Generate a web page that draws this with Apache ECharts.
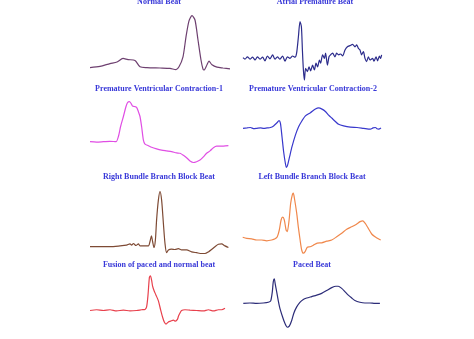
<!DOCTYPE html>
<html>
<head>
<meta charset="utf-8">
<script src="https://cdn.jsdelivr.net/npm/echarts@6/dist/echarts.min.js"></script>
<style>
  html, body { margin: 0; padding: 0; background: #ffffff; }
  #chart { width: 474px; height: 339px; }
</style>
</head>
<body>
<div id="chart"></div>
<script>
// Beat morphologies: [time (ms), amplitude (mV)]
const normalBeat = [[0,0.01],[50,0.04],[100,0.11],[135,0.15],[165,0.24],[190,0.21],[225,0.19],[250,0.03],[285,0.01],[350,0],[400,-0.01],[430,-0.04],[445,0.03],[465,0.28],[480,0.78],[495,1.18],[510,1.31],[525,1.2],[540,0.7],[555,0.2],[565,-0.03],[570,-0.05],[585,0.08],[595,0.17],[610,0.08],[635,0.02],[665,0],[700,-0.02]];

const atrialPremature = [[0,0.01],[10,-0.03],[22,0.03],[35,-0.03],[48,0.02],[60,-0.05],[72,0.03],[85,-0.03],[98,0.02],[110,-0.07],[122,0.05],[135,-0.02],[148,0.08],[160,-0.03],[172,0.03],[185,-0.03],[198,0.05],[210,-0.08],[222,0.03],[235,-0.01],[248,0.05],[260,0.02],[268,0.12],[277,0.53],[285,0.91],[292,0.78],[297,0.2],[302,-0.3],[307,-0.55],[313,-0.26],[322,-0.34],[330,-0.22],[338,-0.32],[348,-0.18],[357,-0.3],[365,-0.13],[373,-0.22],[382,-0.05],[388,-0.13],[398,0.08],[407,-0.01],[413,0.12],[422,-0.18],[430,0.03],[438,0.08],[448,0.12],[460,0.03],[468,0.12],[478,0.08],[488,0.1],[498,0.05],[510,0.2],[522,0.28],[535,0.31],[548,0.34],[560,0.28],[568,0.33],[577,0.24],[585,0.2],[593,0.08],[602,0.16],[610,-0.01],[618,-0.09],[627,0.03],[635,-0.05],[648,-0.01],[655,-0.08],[665,0.03],[673,-0.07],[682,0.05],[688,-0.01],[693,0.08]];

const pvc1 = [[0,0],[33,-0.01],[67,0],[100,0.01],[130,0],[142,0.13],[153,0.38],[167,0.63],[180,0.88],[188,0.98],[197,1.0],[205,0.96],[213,0.89],[222,0.88],[233,0.86],[242,0.75],[250,0.63],[258,0.38],[267,0.04],[275,-0.06],[292,-0.1],[308,-0.14],[333,-0.18],[358,-0.21],[383,-0.23],[408,-0.25],[433,-0.28],[450,-0.29],[467,-0.34],[483,-0.4],[500,-0.48],[517,-0.52],[533,-0.5],[550,-0.46],[567,-0.38],[583,-0.29],[600,-0.23],[617,-0.15],[633,-0.11],[650,-0.11],[667,-0.11],[692,-0.1]];

const pvc2 = [[0,0],[20,0.01],[37,0.02],[55,-0.01],[70,0],[88,0.01],[103,0],[120,0.01],[137,0.02],[153,0.06],[170,0.14],[180,0.19],[187,0.13],[195,-0.21],[203,-0.58],[212,-0.88],[217,-0.98],[223,-0.92],[233,-0.71],[245,-0.46],[262,-0.17],[278,0.04],[295,0.19],[312,0.31],[337,0.39],[362,0.48],[378,0.51],[395,0.48],[412,0.42],[428,0.33],[445,0.25],[462,0.17],[478,0.1],[503,0.06],[537,0.03],[570,0.02],[603,0],[637,-0.02],[650,0.01],[662,0.02],[670,-0.01],[678,-0.02],[690,0.01]];

const rbbb = [[0,0],[50,0],[100,0],[150,0.02],[183,0.04],[200,0.07],[208,0.04],[217,0.08],[230,0.03],[242,0.07],[250,0.02],[275,0.02],[292,0.02],[300,0.13],[307,0.27],[313,0.13],[320,-0.02],[327,0.17],[333,0.67],[342,1.17],[350,1.38],[358,1.17],[367,0.58],[375,0.08],[383,-0.15],[392,-0.08],[408,-0.06],[425,-0.07],[442,-0.05],[458,-0.08],[483,-0.08],[508,-0.13],[533,-0.15],[558,-0.17],[575,-0.17],[592,-0.13],[608,-0.07],[625,0],[642,0.06],[658,0.07],[675,0.02],[692,-0.02]];

const lbbb = [[0,0.07],[20,0.04],[45,0.03],[70,0],[95,0],[120,-0.02],[145,0],[162,0.03],[173,0.08],[183,0.25],[192,0.5],[200,0.57],[208,0.5],[217,0.25],[223,0.21],[232,0.5],[240,0.92],[248,1.13],[253,1.17],[260,1.0],[270,0.67],[278,0.33],[287,0],[295,-0.25],[303,-0.33],[312,-0.29],[323,-0.18],[337,-0.17],[353,-0.13],[373,-0.08],[395,-0.07],[420,-0.03],[445,0],[470,0.08],[495,0.17],[520,0.27],[545,0.33],[567,0.39],[587,0.46],[600,0.48],[612,0.42],[628,0.29],[645,0.15],[662,0.08],[678,0.03],[690,0]];

const fusion = [[0,0],[33,0.02],[67,0],[100,0.02],[133,-0.01],[167,0.01],[200,-0.01],[233,0],[258,0.02],[275,0.03],[283,0.1],[290,0.43],[297,0.93],[302,0.97],[308,0.85],[313,0.68],[320,0.56],[330,0.43],[342,0.27],[353,0.02],[363,-0.19],[372,-0.33],[380,-0.38],[392,-0.32],[403,-0.3],[417,-0.27],[427,-0.3],[437,-0.25],[443,-0.15],[450,-0.07],[458,0],[475,0.02],[500,0.01],[533,0],[567,-0.01],[592,0.02],[617,-0.01],[642,0.02],[658,0.02],[675,0.06]];

const paced = [[0,0],[33,0.01],[67,0],[100,0.01],[125,0.03],[137,0.07],[145,0.32],[150,0.61],[155,0.69],[160,0.53],[167,0.32],[175,0.07],[183,-0.14],[197,-0.39],[208,-0.56],[220,-0.67],[230,-0.64],[242,-0.48],[253,-0.27],[267,-0.1],[283,0.03],[300,0.11],[317,0.15],[342,0.19],[367,0.23],[392,0.28],[417,0.36],[442,0.44],[463,0.48],[475,0.48],[492,0.42],[508,0.33],[525,0.23],[542,0.15],[558,0.08],[583,0.03],[608,0.01],[633,0.01],[658,0],[683,0]];

const beatTitles = [
  'Normal Beat', 'Atrial Premature Beat',
  'Premature Ventricular Contraction-1', 'Premature Ventricular Contraction-2',
  'Right Bundle Branch Block Beat', 'Left Bundle Branch Block Beat',
  'Fusion of paced and normal beat', 'Paced Beat'
];
const beatData = [normalBeat, atrialPremature, pvc1, pvc2, rbbb, lbbb, fusion, paced];

// Panel layout: left edge, baseline pixel, y range, title centre
const panels = [
  { left: 90,    base: 68,    max: 1.5, min: -0.5, tx: 159, ty: 3,   color: '#6e4070' },
  { left: 243,   base: 58,    max: 1.2, min: -0.8, tx: 315, ty: 3,   color: '#2c2c8c' },
  { left: 90,    base: 141.7, max: 1.2, min: -0.8, tx: 159, ty: 90,  color: '#e04ee4' },
  { left: 243,   base: 128.3, max: 0.8, min: -1.2, tx: 313, ty: 90,  color: '#3838cc' },
  { left: 90,    base: 246.7, max: 1.5, min: -0.5, tx: 159, ty: 178, color: '#7e4a34' },
  { left: 242.7, base: 240,   max: 1.5, min: -0.5, tx: 312, ty: 178, color: '#f0884c' },
  { left: 90,    base: 315.7, max: 1.2, min: -0.8, tx: 159, ty: 266, color: '#e8404c' },
  { left: 243.3, base: 307.7, max: 1.0, min: -1.0, tx: 312, ty: 266, color: '#2c2c78' }
];
const PX_PER_MV = 40;
const WIDTH = 140;

const option = {
  backgroundColor: '#ffffff',
  animation: false,
  title: panels.map((p, i) => ({
    text: beatTitles[i],
    left: p.tx,
    top: p.ty - 5,
    textAlign: 'center',
    padding: 0,
    textStyle: {
      fontFamily: 'Liberation Serif',
      fontWeight: 'bold',
      fontSize: 8,
      color: '#3838d8'
    }
  })),
  grid: panels.map(p => ({
    left: p.left,
    top: p.base - p.max * PX_PER_MV,
    width: WIDTH,
    height: (p.max - p.min) * PX_PER_MV
  })),
  xAxis: panels.map((p, i) => ({
    type: 'value', gridIndex: i, min: 0, max: 700, show: false
  })),
  yAxis: panels.map((p, i) => ({
    type: 'value', gridIndex: i, min: p.min, max: p.max, show: false
  })),
  series: panels.map((p, i) => ({
    type: 'line',
    xAxisIndex: i,
    yAxisIndex: i,
    data: beatData[i],
    showSymbol: false,
    smooth: 0.25,
    lineStyle: { color: p.color, width: 1.2 }
  }))
};

const chart = echarts.init(document.getElementById('chart'), null, { renderer: 'canvas' });
chart.setOption(option);
</script>
</body>
</html>
